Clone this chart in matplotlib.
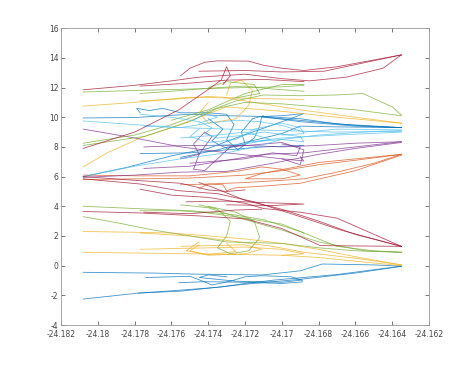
import matplotlib
matplotlib.use("Agg")
import matplotlib.pyplot as plt

# ---- tick values / labels ----
x_ticks = [-24.182, -24.180, -24.178, -24.176, -24.174, -24.172, -24.170,
           -24.168, -24.166, -24.164, -24.162]
x_tick_labels = ["-24.182", "-24.18", "-24.178", "-24.176", "-24.174", "-24.172",
                 "-24.17", "-24.168", "-24.166", "-24.164", "-24.162"]
y_ticks = [-4, -2, 0, 2, 4, 6, 8, 10, 12, 14, 16]
y_tick_labels = ["-4", "-2", "0", "2", "4", "6", "8", "10", "12", "14", "16"]

# ---- trajectories, grouped by colour (x, y) ----
blue_tracks = [
    [(-24.1808, -0.45), (-24.1770, -0.50), (-24.1748, -0.57), (-24.1711, -0.63), (-24.1690, -0.35),
     (-24.1678, 0.11), (-24.1650, 0.05), (-24.1635, -0.03)],
    [(-24.1808, -2.25), (-24.1778, -1.85), (-24.1755, -1.65), (-24.1733, -1.44), (-24.1720, -1.20),
     (-24.1704, -0.97), (-24.1670, -0.60), (-24.1635, -0.03)],
    [(-24.1778, -1.85), (-24.1755, -1.72), (-24.1740, -1.52), (-24.1720, -1.25), (-24.1690, -0.92),
     (-24.1660, -0.50), (-24.1635, -0.05)],
    [(-24.1774, -0.80), (-24.1750, -0.72), (-24.1745, -0.95), (-24.1738, -1.30), (-24.1728, -1.05),
     (-24.1720, -0.75), (-24.1711, -0.68), (-24.1695, -0.75), (-24.1689, -0.97), (-24.1700, -1.12),
     (-24.1725, -1.05), (-24.1745, -0.80), (-24.1740, -0.62), (-24.1730, -0.75)],
    [(-24.1756, -1.15), (-24.1742, -1.08), (-24.1720, -1.12), (-24.1700, -1.20), (-24.1689, -1.10),
     (-24.1689, -0.95)],
    [(-24.1808, 9.95), (-24.1780, 9.98), (-24.1750, 10.20), (-24.1730, 10.10), (-24.1710, 10.05),
     (-24.1690, 9.90), (-24.1670, 9.55), (-24.1635, 9.30)],
    [(-24.1808, 6.00), (-24.1785, 6.60), (-24.1760, 7.40), (-24.1740, 7.90), (-24.1725, 8.60),
     (-24.1708, 9.35), (-24.1692, 10.05), (-24.1688, 10.25), (-24.1700, 10.10), (-24.1711, 10.05),
     (-24.1690, 9.70), (-24.1660, 9.40), (-24.1635, 9.30)],
    [(-24.1777, 10.30), (-24.1779, 10.60), (-24.1772, 10.45), (-24.1765, 10.60), (-24.1755, 10.30),
     (-24.1740, 10.30), (-24.1730, 10.20), (-24.1726, 9.50), (-24.1730, 8.50), (-24.1724, 7.80),
     (-24.1715, 8.60), (-24.1712, 9.40), (-24.1711, 10.00), (-24.1700, 9.90), (-24.1660, 9.45),
     (-24.1635, 9.30)],
    [(-24.1777, 7.55), (-24.1750, 7.60), (-24.1730, 7.80), (-24.1710, 8.00), (-24.1688, 8.10)],
    [(-24.1755, 7.30), (-24.1735, 7.80), (-24.1720, 8.30), (-24.1700, 8.90), (-24.1690, 9.40),
     (-24.1670, 9.35), (-24.1635, 9.30)],
    [(-24.1740, 9.90), (-24.1732, 9.20), (-24.1738, 8.40), (-24.1730, 7.90), (-24.1720, 8.20),
     (-24.1722, 9.00), (-24.1716, 9.90), (-24.1710, 10.10)],
]

orange_tracks = [
    [(-24.1808, 5.80), (-24.1777, 5.85), (-24.1750, 5.90), (-24.1720, 6.10), (-24.1700, 6.40),
     (-24.1680, 6.80), (-24.1660, 7.10), (-24.1635, 7.50)],
    [(-24.1808, 6.10), (-24.1777, 6.05), (-24.1750, 6.05), (-24.1725, 6.35), (-24.1711, 6.65),
     (-24.1700, 6.50), (-24.1690, 6.10), (-24.1700, 5.85), (-24.1720, 5.85), (-24.1711, 6.20),
     (-24.1680, 6.95), (-24.1635, 7.50)],
    [(-24.1755, 5.45), (-24.1740, 5.50), (-24.1720, 5.60), (-24.1700, 5.75), (-24.1688, 5.85),
     (-24.1670, 6.30), (-24.1650, 6.90), (-24.1635, 7.50)],
    [(-24.1745, 5.20), (-24.1740, 5.50), (-24.1732, 5.45), (-24.1730, 5.05), (-24.1725, 5.25),
     (-24.1711, 5.35), (-24.1690, 5.55), (-24.1660, 6.40), (-24.1635, 7.45)],
]

yellow_tracks = [
    [(-24.1808, 10.75), (-24.1780, 11.00), (-24.1750, 11.35), (-24.1730, 11.30), (-24.1710, 10.90),
     (-24.1690, 10.50), (-24.1660, 10.00), (-24.1635, 9.60)],
    [(-24.1808, 6.65), (-24.1795, 7.60), (-24.1777, 8.60), (-24.1760, 9.30), (-24.1745, 10.00),
     (-24.1730, 10.70), (-24.1720, 10.60), (-24.1700, 10.40), (-24.1670, 10.00), (-24.1635, 9.60)],
    [(-24.1777, 11.10), (-24.1760, 11.20), (-24.1740, 11.40), (-24.1725, 11.30), (-24.1710, 11.25),
     (-24.1688, 11.20)],
    [(-24.1740, 11.00), (-24.1745, 10.30), (-24.1740, 9.60), (-24.1725, 9.90), (-24.1718, 10.80),
     (-24.1716, 11.80), (-24.1722, 12.50), (-24.1728, 12.30), (-24.1730, 11.50)],
    [(-24.1808, 2.30), (-24.1780, 2.25), (-24.1760, 2.20), (-24.1740, 2.00), (-24.1720, 1.80),
     (-24.1700, 1.50), (-24.1680, 1.10), (-24.1660, 0.60), (-24.1635, 0.05)],
    [(-24.1808, 0.90), (-24.1780, 0.85), (-24.1750, 0.80), (-24.1720, 0.75), (-24.1700, 0.70),
     (-24.1680, 0.55), (-24.1660, 0.30), (-24.1635, 0.00)],
    [(-24.1777, 1.10), (-24.1760, 1.15), (-24.1740, 1.20), (-24.1720, 1.25), (-24.1700, 1.10),
     (-24.1688, 0.80), (-24.1700, 0.70)],
    [(-24.1755, 1.30), (-24.1740, 1.35), (-24.1720, 1.40), (-24.1711, 1.10), (-24.1720, 0.80),
     (-24.1740, 0.70), (-24.1750, 1.00), (-24.1745, 1.40)],
    [(-24.1777, 2.20), (-24.1750, 2.00), (-24.1730, 1.70), (-24.1705, 1.30), (-24.1688, 0.90),
     (-24.1660, 0.50), (-24.1635, 0.05)],
    [(-24.1745, 1.60), (-24.1752, 1.00), (-24.1740, 0.75), (-24.1725, 0.95), (-24.1730, 1.50)],
]

purple_tracks = [
    [(-24.1808, 9.20), (-24.1780, 8.60), (-24.1755, 8.00), (-24.1730, 7.60), (-24.1700, 7.20),
     (-24.1688, 7.05), (-24.1690, 7.35)],
    [(-24.1775, 8.00), (-24.1750, 8.10), (-24.1720, 8.10), (-24.1700, 8.00), (-24.1680, 8.10),
     (-24.1660, 8.25), (-24.1635, 8.35)],
    [(-24.1775, 6.55), (-24.1750, 6.70), (-24.1730, 7.10), (-24.1710, 7.50), (-24.1688, 7.60),
     (-24.1660, 8.00), (-24.1635, 8.35)],
    [(-24.1755, 7.20), (-24.1745, 7.50), (-24.1748, 8.20), (-24.1742, 9.00), (-24.1738, 8.70),
     (-24.1745, 7.50), (-24.1748, 6.50), (-24.1742, 6.40), (-24.1735, 7.20), (-24.1728, 8.00),
     (-24.1700, 8.30), (-24.1688, 7.80), (-24.1690, 6.80), (-24.1700, 7.20)],
    [(-24.1808, 5.95), (-24.1780, 6.10), (-24.1755, 6.30), (-24.1730, 6.35), (-24.1705, 6.90),
     (-24.1680, 7.50), (-24.1660, 7.90), (-24.1635, 8.30)],
    [(-24.1750, 6.90), (-24.1740, 7.00), (-24.1720, 7.20), (-24.1705, 7.60), (-24.1692, 7.40),
     (-24.1690, 8.00), (-24.1700, 8.20)],
]

green_tracks = [
    [(-24.1808, 11.70), (-24.1780, 11.80), (-24.1750, 11.90), (-24.1720, 12.00), (-24.1700, 12.05),
     (-24.1688, 12.15)],
    [(-24.1777, 11.60), (-24.1760, 11.75), (-24.1740, 11.95), (-24.1720, 12.10), (-24.1705, 11.90),
     (-24.1688, 11.75)],
    [(-24.1808, 8.25), (-24.1780, 8.80), (-24.1760, 9.50), (-24.1740, 10.40), (-24.1725, 11.10),
     (-24.1710, 11.50), (-24.1690, 11.45), (-24.1670, 11.50), (-24.1656, 11.60), (-24.1640, 10.70),
     (-24.1635, 10.15)],
    [(-24.1808, 8.10), (-24.1775, 8.70), (-24.1750, 9.70), (-24.1735, 10.60), (-24.1720, 11.00),
     (-24.1700, 10.90), (-24.1680, 10.70), (-24.1660, 10.50), (-24.1635, 10.10)],
    [(-24.1760, 9.80), (-24.1740, 10.50), (-24.1720, 11.60), (-24.1700, 12.20), (-24.1688, 12.20)],
    [(-24.1740, 12.00), (-24.1730, 12.40), (-24.1715, 12.20), (-24.1712, 11.60), (-24.1725, 11.30)],
    [(-24.1808, 4.00), (-24.1780, 3.85), (-24.1750, 3.70), (-24.1730, 3.50), (-24.1710, 3.10),
     (-24.1690, 2.30), (-24.1670, 1.30), (-24.1650, 1.00), (-24.1635, 0.90)],
    [(-24.1808, 3.30), (-24.1790, 2.90), (-24.1770, 2.40), (-24.1750, 2.00), (-24.1730, 1.60),
     (-24.1700, 1.50), (-24.1680, 1.20), (-24.1660, 1.00), (-24.1635, 0.90)],
    [(-24.1777, 3.70), (-24.1755, 3.70), (-24.1740, 3.55), (-24.1720, 3.20), (-24.1700, 2.80),
     (-24.1688, 2.20)],
    [(-24.1745, 4.10), (-24.1735, 3.80), (-24.1728, 3.00), (-24.1730, 2.00), (-24.1735, 1.20),
     (-24.1728, 0.80), (-24.1718, 1.00), (-24.1712, 1.90), (-24.1715, 3.00), (-24.1725, 3.60),
     (-24.1740, 4.00)],
    [(-24.1755, 4.10), (-24.1740, 3.90), (-24.1720, 3.10), (-24.1700, 2.40), (-24.1680, 1.60),
     (-24.1655, 1.00), (-24.1635, 0.90)],
]

light_blue_tracks = [
    [(-24.1808, 9.75), (-24.1780, 9.50), (-24.1755, 9.30), (-24.1730, 9.20), (-24.1700, 9.10),
     (-24.1670, 9.00), (-24.1635, 9.05)],
    [(-24.1777, 10.20), (-24.1760, 10.00), (-24.1745, 9.70), (-24.1738, 9.30), (-24.1742, 8.90),
     (-24.1735, 8.60), (-24.1720, 8.80), (-24.1710, 9.00), (-24.1690, 8.70), (-24.1688, 8.35),
     (-24.1700, 8.50), (-24.1720, 8.30), (-24.1700, 8.60), (-24.1670, 8.80), (-24.1635, 9.00)],
    [(-24.1808, 6.00), (-24.1780, 6.70), (-24.1755, 7.20), (-24.1730, 7.60), (-24.1715, 8.00),
     (-24.1700, 8.50), (-24.1680, 8.80), (-24.1650, 9.05), (-24.1635, 9.10)],
    [(-24.1775, 9.40), (-24.1755, 9.30), (-24.1740, 9.60), (-24.1725, 9.80), (-24.1712, 9.70),
     (-24.1700, 9.45), (-24.1688, 9.00), (-24.1670, 9.20), (-24.1635, 9.15)],
    [(-24.1755, 8.60), (-24.1735, 8.80), (-24.1720, 9.00), (-24.1706, 8.50), (-24.1720, 8.20),
     (-24.1740, 8.10)],
    [(-24.1748, 9.80), (-24.1742, 10.25), (-24.1735, 10.00), (-24.1745, 9.60)],
    [(-24.1745, 9.20), (-24.1750, 8.70), (-24.1740, 8.30), (-24.1725, 8.50), (-24.1715, 9.20),
     (-24.1700, 9.60), (-24.1690, 9.30), (-24.1688, 8.90), (-24.1700, 8.80)],
]

dark_red_tracks = [
    [(-24.1808, 11.85), (-24.1780, 12.15), (-24.1760, 12.45), (-24.1745, 12.70), (-24.1720, 12.90),
     (-24.1700, 12.60), (-24.1685, 12.45), (-24.1665, 12.70), (-24.1645, 13.30), (-24.1635, 14.20)],
    [(-24.1755, 12.80), (-24.1750, 13.30), (-24.1742, 13.70), (-24.1735, 13.80), (-24.1718, 13.78),
     (-24.1710, 13.50), (-24.1700, 13.30), (-24.1688, 13.15), (-24.1670, 13.40), (-24.1635, 14.20)],
    [(-24.1745, 13.10), (-24.1720, 13.15), (-24.1700, 13.05), (-24.1677, 13.10), (-24.1635, 14.20)],
    [(-24.1777, 12.10), (-24.1750, 12.30), (-24.1730, 12.50), (-24.1710, 12.55), (-24.1688, 12.40)],
    [(-24.1808, 7.90), (-24.1780, 9.00), (-24.1756, 10.50), (-24.1742, 11.70), (-24.1733, 12.50),
     (-24.1730, 13.40), (-24.1728, 12.80), (-24.1732, 12.20)],
    [(-24.1808, 5.85), (-24.1777, 5.50), (-24.1756, 5.05), (-24.1735, 4.85), (-24.1715, 4.30),
     (-24.1690, 3.30), (-24.1668, 2.40), (-24.1635, 1.30)],
    [(-24.1808, 3.65), (-24.1777, 3.55), (-24.1745, 3.35), (-24.1720, 3.15), (-24.1700, 2.50),
     (-24.1679, 1.35), (-24.1635, 1.30)],
    [(-24.1775, 3.60), (-24.1750, 3.50), (-24.1725, 3.75), (-24.1711, 3.80)],
    [(-24.1752, 4.30), (-24.1730, 4.35), (-24.1710, 4.25), (-24.1688, 4.15), (-24.1705, 4.05),
     (-24.1730, 4.10)],
    [(-24.1745, 5.60), (-24.1738, 5.30), (-24.1730, 4.90), (-24.1720, 4.40), (-24.1700, 3.80),
     (-24.1680, 3.00), (-24.1660, 2.10), (-24.1635, 1.30)],
    [(-24.1777, 5.15), (-24.1760, 4.75), (-24.1740, 4.60), (-24.1720, 4.20), (-24.1710, 3.85),
     (-24.1690, 3.60), (-24.1670, 3.20), (-24.1635, 1.30)],
    [(-24.1808, 6.00), (-24.1780, 5.75), (-24.1755, 5.55), (-24.1740, 5.10), (-24.1730, 5.00),
     (-24.1720, 5.10)],
]

groups = [
    (blue_tracks, (0.000, 0.447, 0.741)),
    (orange_tracks, (0.850, 0.325, 0.098)),
    (yellow_tracks, (0.929, 0.694, 0.125)),
    (purple_tracks, (0.494, 0.184, 0.556)),
    (green_tracks, (0.466, 0.674, 0.188)),
    (light_blue_tracks, (0.301, 0.745, 0.933)),
    (dark_red_tracks, (0.635, 0.078, 0.184)),
]

fig = plt.figure(figsize=(4.74, 3.66), dpi=100)
ax = fig.add_axes([0.129, 0.112, 0.776, 0.811])

for tracks, color in groups:
    for tr in tracks:
        xs = [p[0] for p in tr]
        ys = [p[1] for p in tr]
        ax.plot(xs, ys, color=color, lw=0.6, alpha=0.75)

ax.set_xlim(-24.182, -24.162)
ax.set_ylim(-4, 16)
ax.set_xticks(x_ticks)
ax.set_xticklabels(x_tick_labels)
ax.set_yticks(y_ticks)
ax.set_yticklabels(y_tick_labels)
ax.tick_params(direction="in", length=3, width=0.5, labelsize=5.5,
               colors="#444444", top=True, right=True)
ax.tick_params(axis="x", pad=3.5)
ax.tick_params(axis="y", pad=2)
for s in ax.spines.values():
    s.set_color("#999999")
    s.set_linewidth(0.6)

fig.savefig("out.png", dpi=100)
